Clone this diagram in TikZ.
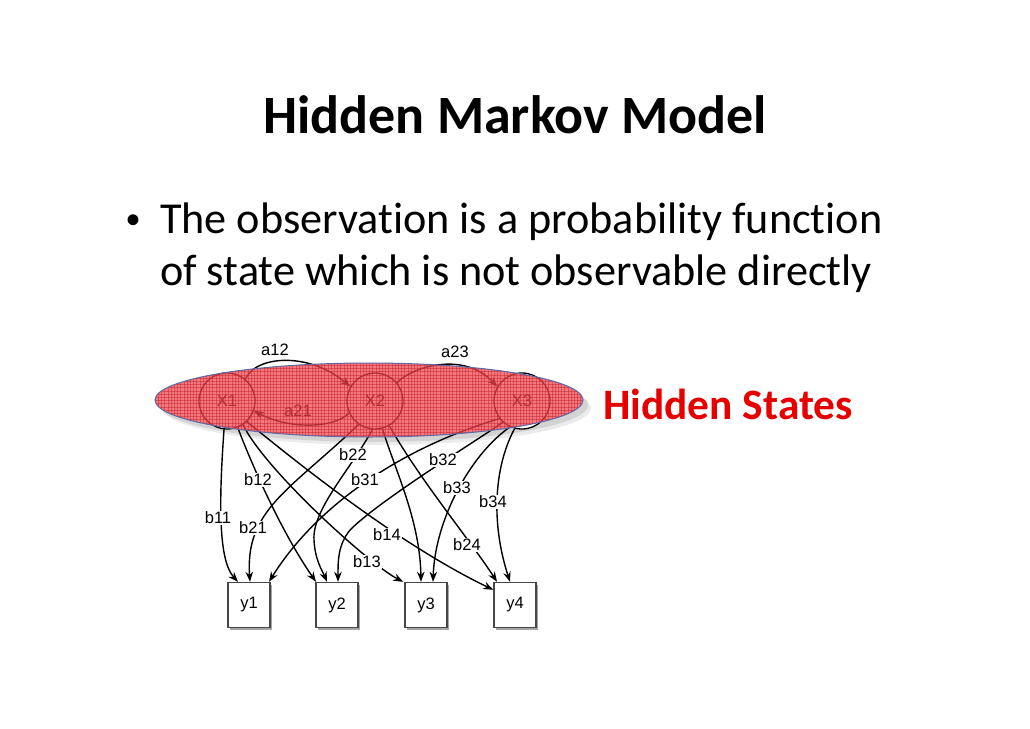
\documentclass[tikz,border=0pt]{standalone}
\usepackage{fontspec}
\setmainfont{Carlito}[Ligatures={NoCommon}]
\newfontfamily\labfont{Liberation Sans}
\usetikzlibrary{arrows.meta,shadows}
\definecolor{ovred}{RGB}{238,70,78}
\definecolor{gridred}{RGB}{205,35,45}
\definecolor{rimblue}{RGB}{95,105,165}
\definecolor{boxgray}{RGB}{70,70,70}
\definecolor{hsred}{RGB}{230,0,0}
\tikzset{
 lbl/.style={font=\labfont\fontsize{16.5}{16.5}\selectfont, inner sep=1pt},
 wlbl/.style={lbl, fill=white},
 state/.style={circle, draw=black, line width=1.3pt, minimum size=56pt, inner sep=0pt, fill=white, font=\labfont\fontsize{16.5}{16.5}\selectfont},
 obs/.style={draw=boxgray, line width=1.4pt, fill=white, minimum width=42pt, minimum height=45pt, inner sep=0pt, font=\labfont\fontsize{16.5}{16.5}\selectfont, drop shadow={shadow xshift=2pt,shadow yshift=-2.5pt,opacity=0.35,fill=black}},
 edge/.style={line width=1.4pt, -{Stealth[length=10pt,width=7.5pt]}},
 bodytext/.style={anchor=base west, inner sep=0pt, font=\fontsize{44.2}{52}\selectfont},
}
\begin{document}
\begin{tikzpicture}[x=1pt,y=-1pt]
\useasboundingbox[fill=white] (0,0) rectangle (1030,728);
% texts
\node[anchor=base, inner sep=0pt, font=\bfseries\fontsize{54}{60}\selectfont] (title) at (515,133) {Hidden Markov Model};
\node[anchor=base west, inner sep=0pt, font=\labfont\fontsize{40}{40}\selectfont] (bul) at (126,233) {•};
\node[bodytext] (l1) at (160,233) {The observation is a probability function};
\node[bodytext] (l2) at (160,285) {of state which is not observable directly};
\node[anchor=base west, inner sep=0pt, text=hsred, font=\bfseries\fontsize{43.4}{48}\selectfont] (hs) at (603,419) {Hidden States};
% ellipse shadow and clearing
\fill[black, opacity=0.10] (374,405) ellipse [x radius=214pt, y radius=37pt];
\fill[black, opacity=0.08] (377,408) ellipse [x radius=214pt, y radius=37pt];
\fill[white] (369,400) ellipse [x radius=214pt, y radius=37pt];
% states
\node[state] (X1) at (227,401) {X1};
\node[state] (X2) at (375,401) {X2};
\node[state] (X3) at (522,401) {X3};
% observations
\node[obs] (y1) at (249,605) {y1};
\node[obs] (y2) at (337,605) {y2};
\node[obs] (y3) at (426,605) {y3};
\node[obs] (y4) at (515,605) {y4};
% transitions
\draw[edge] (X1.50) .. controls (256,355) and (310,352) .. (X2.150);
\draw[edge] (X2.205) .. controls (335,428) and (290,430) .. (X1.-20);
\draw[edge] (X2.40) .. controls (415,365) and (465,352) .. (X3.150);
% emissions
\draw[edge] (X1.264) .. controls (219,500) and (218,560) .. ([xshift=-11pt]y1.north);
\draw[edge] (X1.292) .. controls (250,460) and (280,530) .. ([xshift=-21pt]y2.north);
\draw[edge] (X1.304) .. controls (265,470) and (370,565) .. ([xshift=-1pt]y3.north west);
\draw[edge] (X1.314) .. controls (300,465) and (400,545) .. ([yshift=-8pt]y4.north west);
\draw[edge] (X2.235) .. controls (290,490) and (245,510) .. ([xshift=1pt]y1.north);
\draw[edge] (X2.265) .. controls (350,470) and (312,510) .. (314,540) .. controls (315,560) and (322,570) .. ([xshift=-10pt]y2.north);
\draw[edge] (X2.285) .. controls (395,470) and (420,520) .. ([xshift=-5pt]y3.north);
\draw[edge] (X2.300) .. controls (420,480) and (470,540) .. ([xshift=-18pt]y4.north);
\draw[edge] (X3.218) .. controls (410,445) and (320,500) .. ([xshift=20pt]y1.north);
\draw[edge] (X3.228) .. controls (470,445) and (380,500) .. (350,530) .. controls (338,545) and (338,560) .. ([xshift=1pt]y2.north);
\draw[edge] (X3.245) .. controls (470,455) and (435,520) .. ([xshift=7pt]y3.north);
\draw[edge] (X3.255) .. controls (495,465) and (490,520) .. ([xshift=-5pt]y4.north);
% emission labels
\node[wlbl] (lb11) at (218,518) {b11};
\node[wlbl] (lb12) at (258,480) {b12};
\node[wlbl] (lb13) at (367,562) {b13};
\node[wlbl] (lb14) at (387,535) {b14};
\node[wlbl] (lb21) at (253,528) {b21};
\node[wlbl] (lb22) at (353,455) {b22};
\node[wlbl] (lb24) at (467,545) {b24};
\node[wlbl] (lb31) at (365,480) {b31};
\node[wlbl] (lb32) at (443,460) {b32};
\node[wlbl] (lb33) at (457,488) {b33};
\node[wlbl] (lb34) at (493,502) {b34};
\node[lbl] (la21) at (298,411) {a21};
% red overlay
\fill[ovred, opacity=0.72] (369,400) ellipse [x radius=214pt, y radius=37pt];
\begin{scope}
\clip (369,400) ellipse [x radius=214pt, y radius=37pt];
\foreach \gx in {155,158.2,...,585} \draw[gridred, opacity=0.5, line width=0.5pt] (\gx,360) -- (\gx,440);
\foreach \gy in {362,365.2,...,440} \draw[gridred, opacity=0.5, line width=0.5pt] (150,\gy) -- (590,\gy);
\end{scope}
\draw[rimblue, line width=1pt] (369,400) ellipse [x radius=214pt, y radius=37pt];
% transition labels above
\node[lbl] (la12) at (275,350) {a12};
\node[lbl] (la23) at (455,352) {a23};
\end{tikzpicture}
\end{document}
